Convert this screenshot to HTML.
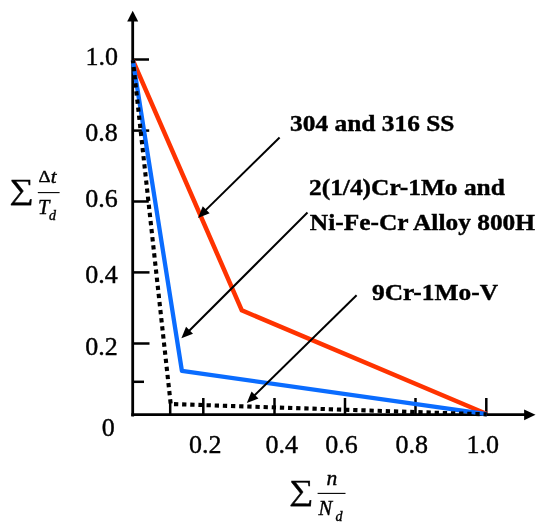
<!DOCTYPE html>
<html>
<head>
<meta charset="utf-8">
<title>Creep-fatigue damage envelope</title>
<style>
html,body{margin:0;padding:0;background:#fff;}
body{width:550px;height:529px;overflow:hidden;}
svg{display:block;}
text{font-family:"Liberation Serif","Times New Roman",serif;fill:#000;stroke:#000;stroke-width:0.4px;}
.ax{font-size:26px;}
.lb{font-size:23px;font-weight:bold;stroke-width:0.2px;}
.it{font-style:italic;}
</style>
</head>
<body>
<svg width="550" height="529" viewBox="0 0 550 529">
<rect width="550" height="529" fill="#fff"/>

<!-- axes -->
<g stroke="#000" fill="none">
<line x1="132.7" y1="20" x2="132.7" y2="416.4" stroke-width="2.8"/>
<line x1="131.3" y1="414.7" x2="526" y2="414.7" stroke-width="2.8"/>
<!-- y ticks -->
<g stroke-width="2.5">
<line x1="133" y1="59.5" x2="149" y2="59.5"/>
<line x1="133" y1="130.6" x2="149.2" y2="130.6"/>
<line x1="133" y1="201.5" x2="148.8" y2="201.5"/>
<line x1="133" y1="272.4" x2="149.5" y2="272.4"/>
<line x1="133" y1="343.5" x2="149.5" y2="343.5"/>
<line x1="133" y1="381.8" x2="144" y2="381.8"/>
<!-- x ticks -->
<line x1="170.2" y1="401" x2="170.2" y2="415"/>
<line x1="203.3" y1="398" x2="203.3" y2="415"/>
<line x1="274.5" y1="398" x2="274.5" y2="415"/>
<line x1="345" y1="398" x2="345" y2="415"/>
<line x1="415.5" y1="398" x2="415.5" y2="415"/>
<line x1="486.3" y1="398" x2="486.3" y2="415"/>
</g>
</g>
<polygon points="132.7,10.7 127.2,21.5 138.2,21.5" fill="#000"/>
<polygon points="535.5,414.8 524.1,409.4 524.1,420.2" fill="#000"/>

<!-- data lines -->
<polyline points="132.9,60.3 241.8,310.4 486.8,414" fill="none" stroke="#ff3300" stroke-width="4.5" stroke-linejoin="miter"/>
<polyline points="132.9,60.3 181.9,370.8 486.8,414.2" fill="none" stroke="#0a6cff" stroke-width="4.3" stroke-linejoin="round"/>
<polyline points="132.9,60.3 170.7,404 486.8,414.4" fill="none" stroke="#000" stroke-width="4.1" stroke-dasharray="4.3 3.85" stroke-dashoffset="1.4" stroke-linejoin="miter"/>

<!-- leader arrows -->
<g stroke="#000" stroke-width="2" fill="none">
<line x1="279.6" y1="137.5" x2="202.6" y2="213.1"/>
<line x1="307.5" y1="212.5" x2="186" y2="334"/>
<line x1="356.6" y1="295.2" x2="251" y2="398.9"/>
</g>
<polygon points="0,0 11.5,-4.9 11.5,4.9" fill="#000" transform="translate(198,217.9) rotate(-44.5)"/>
<polygon points="0,0 11.5,-4.9 11.5,4.9" fill="#000" transform="translate(181.4,338.3) rotate(-45)"/>
<polygon points="0,0 11.5,-4.9 11.5,4.9" fill="#000" transform="translate(246.8,403.1) rotate(-44.5)"/>

<!-- y tick labels -->
<g class="ax">
<text x="85.4" y="65">1.0</text>
<text x="85.3" y="141.4">0.8</text>
<text x="85.3" y="207.1">0.6</text>
<text x="85.3" y="283.2">0.4</text>
<text x="85.3" y="355">0.2</text>
<text x="101.8" y="436.2">0</text>
<text x="189.1" y="452.6">0.2</text>
<text x="265.5" y="452.6">0.4</text>
<text x="325.2" y="452.6">0.6</text>
<text x="395.5" y="452.6">0.8</text>
<text x="466.4" y="452.6">1.0</text>
</g>

<!-- series labels -->
<g class="lb">
<text transform="translate(290,130.5) scale(1.105,1)">304 and 316 SS</text>
<text transform="translate(309,194.7) scale(1.105,1)">2(1/4)Cr-1Mo and</text>
<text transform="translate(309.8,230) scale(1.105,1)">Ni-Fe-Cr Alloy 800H</text>
<text transform="translate(372,300.3) scale(1.105,1)">9Cr-1Mo-V</text>
</g>

<!-- y axis title -->
<text transform="translate(9.8,198.9) scale(1.17,1)" font-size="29">∑</text>
<text transform="translate(38.4,182.4) scale(1.1,1)" font-size="17">Δ</text>
<text transform="translate(50.8,182.6) scale(1.12,1)" font-size="18.5" class="it">t</text>
<line x1="37.8" y1="192.6" x2="59.6" y2="192.6" stroke="#000" stroke-width="1.1"/>
<text x="38" y="214.3" font-size="20.5" class="it">T</text>
<text x="49" y="220.3" font-size="14" class="it">d</text>

<!-- x axis title -->
<text transform="translate(289.5,499.7) scale(1.17,1)" font-size="29">∑</text>
<text x="326.5" y="484.6" font-size="21.5" class="it">n</text>
<line x1="317.6" y1="493.4" x2="345.5" y2="493.4" stroke="#000" stroke-width="1.1"/>
<text x="318.5" y="514.8" font-size="20.5" class="it">N</text>
<text x="335.5" y="520.6" font-size="14" class="it">d</text>
</svg>
</body>
</html>
